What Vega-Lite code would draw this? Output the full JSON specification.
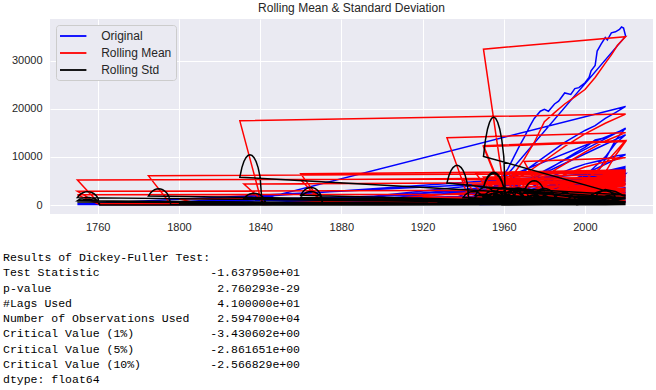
{
"$schema": "https://vega.github.io/schema/vega-lite/v6.json",
"padding": {"left": 3, "top": 2, "right": 0, "bottom": 0},
"background": "white",
"config": {"view": {"stroke": null}, "font": "Liberation Sans",
  "axis": {"domain": false, "ticks": false, "gridColor": "white", "gridWidth": 1, "labelFont": "Liberation Sans", "labelFontSize": 11, "labelColor": "#262626"}},
"datasets": {
"original": [
{"year":1750,"value":250},{"year":1800,"value":300},{"year":1850,"value":400},{"year":1900,"value":700},{"year":1950,"value":1300},{"year":1970,"value":2200},{"year":1990,"value":3500},{"year":2000,"value":4200},{"year":2010,"value":5000},{"year":2020,"value":5800},
{"year":1750,"value":150},{"year":1800,"value":180},{"year":1850,"value":250},{"year":1900,"value":400},{"year":1950,"value":700},{"year":1970,"value":1200},{"year":1990,"value":2000},{"year":2000,"value":2400},{"year":2010,"value":2900},{"year":2020,"value":3300},
{"year":1750,"value":100},{"year":1800,"value":150},{"year":1850,"value":200},{"year":1900,"value":350},{"year":1950,"value":800},{"year":1970,"value":1500},{"year":1990,"value":3000},{"year":2000,"value":4200},{"year":2010,"value":5600},{"year":2020,"value":7000},
{"year":1785,"value":150},{"year":1800,"value":200},{"year":1850,"value":450},{"year":1900,"value":1300},{"year":1950,"value":3000},{"year":1960,"value":4500},{"year":1970,"value":7000},{"year":1980,"value":10000},{"year":1990,"value":13000},{"year":2000,"value":15500},{"year":2005,"value":16500},{"year":2010,"value":18000},{"year":2015,"value":19200},{"year":2020,"value":20500},
{"year":1830,"value":100},{"year":1850,"value":200},{"year":1900,"value":500},{"year":1950,"value":1000},{"year":1970,"value":1800},{"year":1990,"value":3000},{"year":2000,"value":3800},{"year":2010,"value":4500},{"year":2020,"value":5000},
{"year":1832,"value":120},{"year":1850,"value":250},{"year":1900,"value":600},{"year":1950,"value":1400},{"year":1970,"value":2800},{"year":1990,"value":4500},{"year":2000,"value":5500},{"year":2010,"value":6800},{"year":2020,"value":7400},
{"year":1860,"value":200},{"year":1900,"value":350},{"year":1950,"value":600},{"year":1970,"value":900},{"year":1990,"value":1300},{"year":2000,"value":1500},{"year":2010,"value":1700},{"year":2020,"value":1800},
{"year":1920,"value":300},{"year":1930,"value":500},{"year":1940,"value":700},{"year":1950,"value":1200},{"year":1960,"value":2500},{"year":1970,"value":4500},{"year":1975,"value":5500},{"year":1980,"value":7000},{"year":1985,"value":8200},{"year":1990,"value":9500},{"year":1995,"value":10800},{"year":2000,"value":12000},{"year":2005,"value":13500},{"year":2010,"value":14000},{"year":2015,"value":15000},{"year":2020,"value":15800},
{"year":1932,"value":800},{"year":1940,"value":1200},{"year":1950,"value":2500},{"year":1955,"value":3800},{"year":1958,"value":5000},{"year":1962,"value":7500},{"year":1965,"value":10000},{"year":1968,"value":12500},{"year":1970,"value":14000},{"year":1973,"value":16500},{"year":1975,"value":18000},{"year":1978,"value":19500},{"year":1980,"value":19900},{"year":1982,"value":19500},{"year":1985,"value":21000},{"year":1987,"value":21600},{"year":1990,"value":23300},{"year":1993,"value":23000},{"year":1995,"value":24200},{"year":1997,"value":24400},{"year":2000,"value":25400},{"year":2002,"value":26500},{"year":2003,"value":27900},{"year":2005,"value":29000},{"year":2006,"value":32000},{"year":2008,"value":33500},{"year":2010,"value":34800},{"year":2011,"value":34300},{"year":2013,"value":35800},{"year":2015,"value":36000},{"year":2017,"value":36500},{"year":2018,"value":37000},{"year":2019,"value":36800},{"year":2020,"value":35100},
{"year":1950,"value":500},{"year":1960,"value":800},{"year":1970,"value":1500},{"year":1980,"value":2500},{"year":1990,"value":4000},{"year":2000,"value":6000},{"year":2005,"value":8000},{"year":2010,"value":10000},{"year":2015,"value":12800},{"year":2020,"value":14600},
{"year":1950,"value":700},{"year":1960,"value":1500},{"year":1970,"value":3000},{"year":1980,"value":5000},{"year":1985,"value":6200},{"year":1990,"value":7000},{"year":1995,"value":7800},{"year":2000,"value":8500},{"year":2005,"value":9000},{"year":2010,"value":9500},{"year":2015,"value":10200},{"year":2020,"value":10500},
{"year":1970,"value":400},{"year":1980,"value":800},{"year":1990,"value":1500},{"year":2000,"value":2600},{"year":2010,"value":3800},{"year":2015,"value":4500},{"year":2020,"value":5000},
{"year":1945,"value":300},{"year":1960,"value":600},{"year":1970,"value":1000},{"year":1980,"value":1800},{"year":1990,"value":3000},{"year":2000,"value":4500},{"year":2010,"value":5800},{"year":2020,"value":6500},
{"year":2005,"value":400},{"year":2010,"value":500},{"year":2015,"value":600},{"year":2020,"value":650},
{"year":1950,"value":200},{"year":1970,"value":500},{"year":1990,"value":1600},{"year":2000,"value":3500},{"year":2005,"value":6000},{"year":2010,"value":9500},{"year":2015,"value":13500},{"year":2020,"value":16000},
{"year":1950,"value":500},{"year":1960,"value":700},{"year":1970,"value":1000},{"year":1980,"value":1500},{"year":1990,"value":2000},{"year":2000,"value":2800},{"year":2010,"value":3800},{"year":2020,"value":4300},
{"year":1955,"value":300},{"year":1970,"value":700},{"year":1980,"value":1200},{"year":1990,"value":2000},{"year":2000,"value":3500},{"year":2010,"value":6000},{"year":2020,"value":7500},
{"year":1960,"value":1000},{"year":1970,"value":1800},{"year":1980,"value":3000},{"year":1990,"value":4300},{"year":2000,"value":5500},{"year":2010,"value":7000},{"year":2020,"value":8000},
{"year":1946,"value":400},{"year":1960,"value":600},{"year":1970,"value":900},{"year":1980,"value":1500},{"year":1990,"value":2000},{"year":2000,"value":2600},{"year":2010,"value":3200},{"year":2020,"value":3600},
{"year":1966,"value":150},{"year":1980,"value":400},{"year":1990,"value":500},{"year":2000,"value":700},{"year":2010,"value":1100},{"year":2020,"value":1500},
{"year":1800,"value":100},{"year":1850,"value":150},{"year":1900,"value":250},{"year":1950,"value":450},{"year":1970,"value":800},{"year":1990,"value":1800},{"year":2000,"value":2800},{"year":2010,"value":4200},{"year":2020,"value":5500},
{"year":1952,"value":250},{"year":1960,"value":400},{"year":1970,"value":700},{"year":1980,"value":1300},{"year":1990,"value":2200},{"year":2000,"value":3300},{"year":2010,"value":4800},{"year":2020,"value":6200},
{"year":1860,"value":300},{"year":1900,"value":500},{"year":1950,"value":900},{"year":1970,"value":1400},{"year":1990,"value":2000},{"year":2000,"value":2400},{"year":2010,"value":3000},{"year":2020,"value":3500},
{"year":1955,"value":150},{"year":1970,"value":400},{"year":1980,"value":600},{"year":1990,"value":900},{"year":2000,"value":1300},{"year":2010,"value":2000},{"year":2020,"value":2500},
{"year":1750,"value":80},{"year":1800,"value":100},{"year":1850,"value":150},{"year":1900,"value":250},{"year":1950,"value":500},{"year":1970,"value":900},{"year":1990,"value":1500},{"year":2000,"value":2000},{"year":2010,"value":2600},{"year":2020,"value":3000},
{"year":1948,"value":100},{"year":1960,"value":150},{"year":1970,"value":250},{"year":1980,"value":350},{"year":1990,"value":450},{"year":2000,"value":600},{"year":2010,"value":800},{"year":2020,"value":1000},
{"year":1990,"value":600},{"year":1995,"value":400},{"year":2000,"value":500},{"year":2005,"value":900},{"year":2010,"value":1500},{"year":2015,"value":2000},{"year":2020,"value":2300},
{"year":1950,"value":300},{"year":1960,"value":500},{"year":1970,"value":900},{"year":1980,"value":1500},{"year":1990,"value":2500},{"year":2000,"value":3800},{"year":2005,"value":5000},{"year":2010,"value":6500},{"year":2015,"value":7500},{"year":2020,"value":7800},
{"year":1962,"value":600},{"year":1970,"value":1600},{"year":1980,"value":2400},{"year":1990,"value":3300},{"year":2000,"value":4000},{"year":2010,"value":4800},{"year":2020,"value":5200},
{"year":1985,"value":200},{"year":1990,"value":300},{"year":2000,"value":1000},{"year":2010,"value":1500},{"year":2020,"value":2000},
{"year":1950,"value":1200},{"year":1960,"value":1800},{"year":1970,"value":2800},{"year":1980,"value":3600},{"year":1990,"value":4500},{"year":2000,"value":5500},{"year":2010,"value":6500},{"year":2020,"value":7200},
{"year":1965,"value":400},{"year":1970,"value":700},{"year":1980,"value":1500},{"year":1990,"value":2600},{"year":2000,"value":4000},{"year":2010,"value":5500},{"year":2020,"value":6000},
{"year":1940,"value":300},{"year":1950,"value":450},{"year":1960,"value":700},{"year":1970,"value":1000},{"year":1980,"value":1300},{"year":1990,"value":1500},{"year":2000,"value":1800},{"year":2010,"value":2200},{"year":2020,"value":2600},
{"year":1980,"value":500},{"year":1990,"value":700},{"year":2000,"value":1100},{"year":2010,"value":1800},{"year":2020,"value":2400},
{"year":1990,"value":800},{"year":1995,"value":1500},{"year":2000,"value":2800},{"year":2005,"value":4000},{"year":2010,"value":6000},{"year":2015,"value":6800},{"year":2020,"value":7300},
{"year":1975,"value":350},{"year":1980,"value":450},{"year":1990,"value":1100},{"year":2000,"value":1300},{"year":2010,"value":1600},{"year":2020,"value":1900},
{"year":1950,"value":400},{"year":1960,"value":900},{"year":1970,"value":1700},{"year":1980,"value":2600},{"year":1990,"value":3400},{"year":2000,"value":4300},{"year":2010,"value":5200},{"year":2020,"value":6000},
{"year":1960,"value":800},{"year":1970,"value":1400},{"year":1980,"value":2500},{"year":1990,"value":3500},{"year":2000,"value":4500},{"year":2010,"value":5000},{"year":2020,"value":5400},
{"year":1950,"value":1000},{"year":1960,"value":1600},{"year":1970,"value":2400},{"year":1980,"value":3000},{"year":1990,"value":3700},{"year":2000,"value":4200},{"year":2010,"value":4900},{"year":2020,"value":5300},
{"year":1991,"value":1500},{"year":1995,"value":1200},{"year":2000,"value":1800},{"year":2005,"value":2800},{"year":2010,"value":4000},{"year":2015,"value":4800},{"year":2020,"value":5200},
{"year":1950,"value":200},{"year":1960,"value":300},{"year":1970,"value":500},{"year":1980,"value":800},{"year":1990,"value":1100},{"year":2000,"value":1400},{"year":2010,"value":1900},{"year":2020,"value":2300},
{"year":1960,"value":500},{"year":1970,"value":1200},{"year":1980,"value":2200},{"year":1990,"value":3000},{"year":2000,"value":4200},{"year":2010,"value":5800},{"year":2020,"value":6800},
{"year":1950,"value":600},{"year":1960,"value":900},{"year":1970,"value":1300},{"year":1980,"value":1900},{"year":1990,"value":2500},{"year":2000,"value":3200},{"year":2010,"value":3900},{"year":2020,"value":4400},
{"year":1970,"value":300},{"year":1980,"value":600},{"year":1990,"value":1000},{"year":2000,"value":1600},{"year":2010,"value":2500},{"year":2020,"value":3300},
{"year":1950,"value":900},{"year":1960,"value":1500},{"year":1970,"value":2500},{"year":1980,"value":3500},{"year":1990,"value":4500},{"year":2000,"value":5600},{"year":2010,"value":6700},{"year":2020,"value":7500},
{"year":1955,"value":400},{"year":1970,"value":900},{"year":1980,"value":1500},{"year":1990,"value":2300},{"year":2000,"value":3300},{"year":2010,"value":4500},{"year":2020,"value":5600}
],
"rolling_mean": [
{"year":1761,"value":255},{"year":1800,"value":295},{"year":1850,"value":390},{"year":1900,"value":680},{"year":1950,"value":1250},{"year":1970,"value":2100},{"year":1990,"value":3300},{"year":2000,"value":3950},{"year":2010,"value":4750},{"year":2020,"value":5450},
{"year":1750,"value":5200},{"year":1761,"value":155},{"year":1800,"value":175},{"year":1850,"value":240},{"year":1900,"value":380},{"year":1950,"value":670},{"year":1970,"value":1120},{"year":1990,"value":1850},{"year":2000,"value":2250},{"year":2010,"value":2700},{"year":2020,"value":3100},
{"year":1750,"value":2850},{"year":1761,"value":105},{"year":1800,"value":145},{"year":1850,"value":195},{"year":1900,"value":330},{"year":1950,"value":740},{"year":1970,"value":1380},{"year":1990,"value":2700},{"year":2000,"value":3800},{"year":2010,"value":5100},{"year":2020,"value":6600},
{"year":1785,"value":6060},{"year":1796,"value":160},{"year":1850,"value":420},{"year":1900,"value":1200},{"year":1950,"value":2800},{"year":1960,"value":4100},{"year":1970,"value":6300},{"year":1980,"value":9200},{"year":1990,"value":12200},{"year":2000,"value":14800},{"year":2010,"value":17000},{"year":2020,"value":18900},
{"year":1830,"value":17500},{"year":1841,"value":110},{"year":1850,"value":190},{"year":1900,"value":470},{"year":1950,"value":950},{"year":1970,"value":1650},{"year":1990,"value":2800},{"year":2000,"value":3500},{"year":2010,"value":4200},{"year":2020,"value":4750},
{"year":1832,"value":4365},{"year":1843,"value":130},{"year":1850,"value":220},{"year":1900,"value":570},{"year":1950,"value":1320},{"year":1970,"value":2600},{"year":1990,"value":4200},{"year":2000,"value":5100},{"year":2010,"value":6300},{"year":2020,"value":7050},
{"year":1860,"value":6480},{"year":1871,"value":210},{"year":1900,"value":340},{"year":1950,"value":570},{"year":1970,"value":860},{"year":1990,"value":1250},{"year":2000,"value":1450},{"year":2010,"value":1650},{"year":2020,"value":1750},
{"year":1920,"value":1630},{"year":1931,"value":310},{"year":1940,"value":600},{"year":1950,"value":1000},{"year":1960,"value":2000},{"year":1970,"value":3700},{"year":1980,"value":6000},{"year":1990,"value":8500},{"year":2000,"value":11000},{"year":2010,"value":13300},{"year":2020,"value":15040},
{"year":1932,"value":14000},{"year":1943,"value":1000},{"year":1950,"value":1800},{"year":1955,"value":2800},{"year":1960,"value":4200},{"year":1965,"value":6500},{"year":1970,"value":9500},{"year":1975,"value":13000},{"year":1980,"value":17300},{"year":1985,"value":19200},{"year":1990,"value":21000},{"year":1995,"value":22500},{"year":2000,"value":24000},{"year":2005,"value":26500},{"year":2010,"value":29500},{"year":2013,"value":31200},{"year":2016,"value":33200},{"year":2020,"value":35000},
{"year":1950,"value":32400},{"year":1961,"value":560},{"year":1970,"value":1250},{"year":1980,"value":2150},{"year":1990,"value":3500},{"year":2000,"value":5300},{"year":2005,"value":6800},{"year":2010,"value":8700},{"year":2015,"value":11000},{"year":2020,"value":13400},
{"year":1950,"value":12340},{"year":1961,"value":1100},{"year":1970,"value":2300},{"year":1980,"value":4000},{"year":1990,"value":6300},{"year":2000,"value":7900},{"year":2010,"value":9000},{"year":2020,"value":9850},
{"year":1970,"value":9060},{"year":1981,"value":650},{"year":1990,"value":1250},{"year":2000,"value":2200},{"year":2010,"value":3300},{"year":2020,"value":4550},
{"year":1945,"value":4200},{"year":1956,"value":400},{"year":1970,"value":850},{"year":1980,"value":1550},{"year":1990,"value":2600},{"year":2000,"value":4000},{"year":2010,"value":5300},{"year":2020,"value":6100},
{"year":2005,"value":5625},{"year":2016,"value":540},{"year":2020,"value":600},
{"year":1950,"value":567},{"year":1961,"value":260},{"year":1970,"value":430},{"year":1990,"value":1350},{"year":2000,"value":2700},{"year":2005,"value":4200},{"year":2010,"value":6800},{"year":2015,"value":10300},{"year":2020,"value":13200},
{"year":1950,"value":12140},{"year":1961,"value":600},{"year":1970,"value":900},{"year":1980,"value":1350},{"year":1990,"value":1850},{"year":2000,"value":2500},{"year":2010,"value":3400},{"year":2020,"value":4000},
{"year":1955,"value":3690},{"year":1966,"value":400},{"year":1980,"value":1050},{"year":1990,"value":1750},{"year":2000,"value":3000},{"year":2010,"value":5200},{"year":2020,"value":7000},
{"year":1960,"value":6500},{"year":1971,"value":1150},{"year":1980,"value":2500},{"year":1990,"value":3800},{"year":2000,"value":5000},{"year":2010,"value":6300},{"year":2020,"value":7300},
{"year":1946,"value":6720},{"year":1957,"value":520},{"year":1970,"value":800},{"year":1980,"value":1300},{"year":1990,"value":1850},{"year":2000,"value":2400},{"year":2010,"value":3000},{"year":2020,"value":3450},
{"year":1966,"value":3175},{"year":1977,"value":300},{"year":1990,"value":470},{"year":2000,"value":640},{"year":2010,"value":1000},{"year":2020,"value":1400},
{"year":1800,"value":1290},{"year":1811,"value":105},{"year":1850,"value":145},{"year":1900,"value":240},{"year":1950,"value":420},{"year":1970,"value":720},{"year":1990,"value":1600},{"year":2000,"value":2500},{"year":2010,"value":3700},{"year":2020,"value":5000},
{"year":1952,"value":4600},{"year":1963,"value":400},{"year":1970,"value":600},{"year":1980,"value":1100},{"year":1990,"value":1900},{"year":2000,"value":2900},{"year":2010,"value":4200},{"year":2020,"value":5700},
{"year":1860,"value":5250},{"year":1871,"value":310},{"year":1900,"value":480},{"year":1950,"value":850},{"year":1970,"value":1300},{"year":1990,"value":1900},{"year":2000,"value":2250},{"year":2010,"value":2800},{"year":2020,"value":3300},
{"year":1955,"value":3040},{"year":1966,"value":250},{"year":1980,"value":540},{"year":1990,"value":820},{"year":2000,"value":1200},{"year":2010,"value":1800},{"year":2020,"value":2300},
{"year":1750,"value":2115},{"year":1761,"value":85},{"year":1800,"value":100},{"year":1850,"value":145},{"year":1900,"value":240},{"year":1950,"value":470},{"year":1970,"value":830},{"year":1990,"value":1400},{"year":2000,"value":1850},{"year":2010,"value":2400},{"year":2020,"value":2850},
{"year":1948,"value":2620},{"year":1959,"value":140},{"year":1970,"value":220},{"year":1980,"value":320},{"year":1990,"value":420},{"year":2000,"value":550},{"year":2010,"value":750},{"year":2020,"value":950},
{"year":1990,"value":920},{"year":2001,"value":520},{"year":2005,"value":620},{"year":2010,"value":950},{"year":2015,"value":1500},{"year":2020,"value":1950},
{"year":1950,"value":1810},{"year":1961,"value":420},{"year":1970,"value":780},{"year":1980,"value":1300},{"year":1990,"value":2200},{"year":2000,"value":3400},{"year":2010,"value":5500},{"year":2020,"value":7200},
{"year":1962,"value":6650},{"year":1973,"value":1300},{"year":1980,"value":2100},{"year":1990,"value":3000},{"year":2000,"value":3800},{"year":2010,"value":4500},{"year":2020,"value":5000},
{"year":1985,"value":4600},{"year":1996,"value":600},{"year":2000,"value":800},{"year":2010,"value":1350},{"year":2020,"value":1850},
{"year":1950,"value":1800},{"year":1961,"value":1500},{"year":1970,"value":2400},{"year":1980,"value":3200},{"year":1990,"value":4100},{"year":2000,"value":5000},{"year":2010,"value":6000},{"year":2020,"value":6800},
{"year":1965,"value":6270},{"year":1976,"value":1100},{"year":1980,"value":1400},{"year":1990,"value":2300},{"year":2000,"value":3500},{"year":2010,"value":5000},{"year":2020,"value":5700},
{"year":1940,"value":5250},{"year":1951,"value":380},{"year":1960,"value":620},{"year":1970,"value":900},{"year":1980,"value":1200},{"year":1990,"value":1450},{"year":2000,"value":1700},{"year":2010,"value":2050},{"year":2020,"value":2450},
{"year":1980,"value":2290},{"year":1991,"value":600},{"year":2000,"value":950},{"year":2010,"value":1600},{"year":2020,"value":2200},
{"year":1990,"value":2085},{"year":2001,"value":1900},{"year":2005,"value":3600},{"year":2010,"value":5000},{"year":2015,"value":6200},{"year":2020,"value":6900},
{"year":1975,"value":6350},{"year":1986,"value":900},{"year":1990,"value":1000},{"year":2000,"value":1250},{"year":2010,"value":1500},{"year":2020,"value":1800},
{"year":1950,"value":1683},{"year":1961,"value":700},{"year":1970,"value":1450},{"year":1980,"value":2300},{"year":1990,"value":3100},{"year":2000,"value":3900},{"year":2010,"value":4800},{"year":2020,"value":5600},
{"year":1960,"value":5200},{"year":1971,"value":1200},{"year":1980,"value":2100},{"year":1990,"value":3100},{"year":2000,"value":4100},{"year":2010,"value":4800},{"year":2020,"value":5200},
{"year":1950,"value":4850},{"year":1961,"value":1400},{"year":1970,"value":2100},{"year":1980,"value":2800},{"year":1990,"value":3400},{"year":2000,"value":4000},{"year":2010,"value":4600},{"year":2020,"value":5100},
{"year":1991,"value":4800},{"year":2002,"value":1600},{"year":2005,"value":2000},{"year":2010,"value":3100},{"year":2015,"value":4100},{"year":2020,"value":4800},
{"year":1950,"value":4417},{"year":1961,"value":260},{"year":1970,"value":450},{"year":1980,"value":720},{"year":1990,"value":1000},{"year":2000,"value":1300},{"year":2010,"value":1750},{"year":2020,"value":2150},
{"year":1960,"value":2013},{"year":1971,"value":900},{"year":1980,"value":1800},{"year":1990,"value":2700},{"year":2000,"value":3700},{"year":2010,"value":5100},{"year":2020,"value":6300},
{"year":1950,"value":5825},{"year":1961,"value":800},{"year":1970,"value":1150},{"year":1980,"value":1700},{"year":1990,"value":2300},{"year":2000,"value":2950},{"year":2010,"value":3600},{"year":2020,"value":4200},
{"year":1970,"value":3875},{"year":1981,"value":500},{"year":1990,"value":850},{"year":2000,"value":1400},{"year":2010,"value":2200},{"year":2020,"value":3000},
{"year":1950,"value":2825},{"year":1961,"value":1300},{"year":1970,"value":2100},{"year":1980,"value":3100},{"year":1990,"value":4100},{"year":2000,"value":5100},{"year":2010,"value":6200},{"year":2020,"value":7100},
{"year":1955,"value":6542},{"year":1966,"value":600},{"year":1980,"value":1250},{"year":1990,"value":2000},{"year":2000,"value":2900},{"year":2010,"value":4000},{"year":2020,"value":5100}
],
"rolling_std": [
{"year":1761,"value":20},{"year":1850,"value":30},{"year":1900,"value":60},{"year":1950,"value":100},{"year":1970,"value":170},{"year":1990,"value":250},{"year":2010,"value":280},{"year":2020,"value":290},
{"year":1750,"value":1532},{"year":1751,"value":2062},{"year":1752,"value":2396},{"year":1753,"value":2608},{"year":1754,"value":2730},{"year":1755,"value":2767},{"year":1756,"value":2730},{"year":1757,"value":2608},{"year":1758,"value":2396},{"year":1759,"value":2062},{"year":1760,"value":1532},{"year":1761,"value":30},{"year":1800,"value":20},{"year":1850,"value":30},{"year":1900,"value":50},{"year":1950,"value":80},{"year":1970,"value":140},{"year":1990,"value":220},{"year":2010,"value":200},{"year":2020,"value":190},
{"year":1750,"value":867},{"year":1751,"value":1167},{"year":1752,"value":1356},{"year":1753,"value":1476},{"year":1754,"value":1545},{"year":1755,"value":1566},{"year":1756,"value":1545},{"year":1757,"value":1476},{"year":1758,"value":1356},{"year":1759,"value":1167},{"year":1760,"value":867},{"year":1761,"value":20},{"year":1800,"value":15},{"year":1850,"value":20},{"year":1900,"value":40},{"year":1950,"value":100},{"year":1970,"value":220},{"year":1990,"value":420},{"year":2000,"value":450},{"year":2010,"value":430},{"year":2020,"value":440},
{"year":1785,"value":1864},{"year":1786,"value":2509},{"year":1787,"value":2915},{"year":1788,"value":3173},{"year":1789,"value":3322},{"year":1790,"value":3367},{"year":1791,"value":3322},{"year":1792,"value":3173},{"year":1793,"value":2915},{"year":1794,"value":2509},{"year":1795,"value":1864},{"year":1796,"value":40},{"year":1850,"value":60},{"year":1900,"value":180},{"year":1950,"value":350},{"year":1960,"value":500},{"year":1970,"value":850},{"year":1980,"value":1000},{"year":1990,"value":1000},{"year":2000,"value":900},{"year":2010,"value":900},{"year":2020,"value":1300},
{"year":1830,"value":5780},{"year":1831,"value":7780},{"year":1832,"value":9040},{"year":1833,"value":9840},{"year":1834,"value":10300},{"year":1835,"value":10440},{"year":1836,"value":10300},{"year":1837,"value":9840},{"year":1838,"value":9040},{"year":1839,"value":7780},{"year":1840,"value":5780},{"year":1841,"value":50},{"year":1850,"value":30},{"year":1900,"value":50},{"year":1950,"value":90},{"year":1970,"value":180},{"year":1990,"value":330},{"year":2000,"value":300},{"year":2010,"value":250},{"year":2020,"value":200},
{"year":1832,"value":1344},{"year":1833,"value":1809},{"year":1834,"value":2102},{"year":1835,"value":2288},{"year":1836,"value":2395},{"year":1837,"value":2427},{"year":1838,"value":2395},{"year":1839,"value":2288},{"year":1840,"value":2102},{"year":1841,"value":1809},{"year":1842,"value":1344},{"year":1843,"value":30},{"year":1900,"value":50},{"year":1950,"value":120},{"year":1970,"value":250},{"year":1990,"value":350},{"year":2010,"value":330},{"year":2020,"value":350},
{"year":1860,"value":2023},{"year":1861,"value":2723},{"year":1862,"value":3164},{"year":1863,"value":3444},{"year":1864,"value":3605},{"year":1865,"value":3654},{"year":1866,"value":3605},{"year":1867,"value":3444},{"year":1868,"value":3164},{"year":1869,"value":2723},{"year":1870,"value":2023},{"year":1871,"value":20},{"year":1900,"value":25},{"year":1950,"value":40},{"year":1970,"value":60},{"year":1990,"value":80},{"year":2020,"value":70},
{"year":1920,"value":419},{"year":1921,"value":564},{"year":1923,"value":713},{"year":1925,"value":757},{"year":1927,"value":713},{"year":1929,"value":564},{"year":1930,"value":419},{"year":1931,"value":60},{"year":1940,"value":70},{"year":1950,"value":150},{"year":1960,"value":400},{"year":1970,"value":650},{"year":1980,"value":800},{"year":1990,"value":800},{"year":2000,"value":850},{"year":2010,"value":600},{"year":2020,"value":700},
{"year":1932,"value":4566},{"year":1933,"value":6146},{"year":1934,"value":7142},{"year":1935,"value":7774},{"year":1936,"value":8137},{"year":1937,"value":8248},{"year":1938,"value":8137},{"year":1939,"value":7774},{"year":1940,"value":7142},{"year":1941,"value":6146},{"year":1942,"value":4566},{"year":1943,"value":150},{"year":1950,"value":400},{"year":1955,"value":700},{"year":1960,"value":1500},{"year":1965,"value":2800},{"year":1970,"value":3300},{"year":1975,"value":2800},{"year":1980,"value":2000},{"year":1985,"value":1200},{"year":1990,"value":1300},{"year":1995,"value":1200},{"year":2000,"value":1300},{"year":2005,"value":2500},{"year":2010,"value":3200},{"year":2015,"value":2800},{"year":2020,"value":1800},
{"year":1950,"value":10115},{"year":1951,"value":13615},{"year":1952,"value":15820},{"year":1953,"value":17220},{"year":1954,"value":18025},{"year":1955,"value":18270},{"year":1956,"value":18025},{"year":1957,"value":17220},{"year":1958,"value":15820},{"year":1959,"value":13615},{"year":1960,"value":10115},{"year":1961,"value":100},{"year":1970,"value":200},{"year":1980,"value":300},{"year":1990,"value":500},{"year":2000,"value":700},{"year":2010,"value":1300},{"year":2020,"value":1500},
{"year":1950,"value":3613},{"year":1951,"value":4863},{"year":1952,"value":5650},{"year":1953,"value":6150},{"year":1954,"value":6438},{"year":1955,"value":6525},{"year":1956,"value":6438},{"year":1957,"value":6150},{"year":1958,"value":5650},{"year":1959,"value":4863},{"year":1960,"value":3613},{"year":1961,"value":300},{"year":1970,"value":500},{"year":1980,"value":650},{"year":1990,"value":500},{"year":2000,"value":450},{"year":2010,"value":350},{"year":2020,"value":400},
{"year":1970,"value":2803},{"year":1971,"value":3773},{"year":1972,"value":4384},{"year":1973,"value":4772},{"year":1974,"value":4996},{"year":1975,"value":5063},{"year":1976,"value":4996},{"year":1977,"value":4772},{"year":1978,"value":4384},{"year":1979,"value":3773},{"year":1980,"value":2803},{"year":1981,"value":120},{"year":1990,"value":200},{"year":2000,"value":330},{"year":2010,"value":400},{"year":2020,"value":350},
{"year":1945,"value":1243},{"year":1946,"value":1673},{"year":1947,"value":1944},{"year":1948,"value":2116},{"year":1949,"value":2215},{"year":1950,"value":2245},{"year":1951,"value":2215},{"year":1952,"value":2116},{"year":1953,"value":1944},{"year":1954,"value":1673},{"year":1955,"value":1243},{"year":1956,"value":60},{"year":1970,"value":130},{"year":1980,"value":250},{"year":1990,"value":380},{"year":2000,"value":450},{"year":2010,"value":400},{"year":2020,"value":300},
{"year":2005,"value":1647},{"year":2006,"value":2217},{"year":2007,"value":2576},{"year":2008,"value":2804},{"year":2009,"value":2936},{"year":2010,"value":2975},{"year":2011,"value":2936},{"year":2012,"value":2804},{"year":2013,"value":2576},{"year":2014,"value":2217},{"year":2015,"value":1647},{"year":2016,"value":50},{"year":2020,"value":60},
{"year":1950,"value":116},{"year":1951,"value":156},{"year":1953,"value":197},{"year":1955,"value":209},{"year":1957,"value":197},{"year":1959,"value":156},{"year":1960,"value":116},{"year":1961,"value":30},{"year":1970,"value":60},{"year":1990,"value":250},{"year":2000,"value":700},{"year":2005,"value":1300},{"year":2010,"value":1900},{"year":2015,"value":2200},{"year":2020,"value":2100},
{"year":1950,"value":3757},{"year":1951,"value":5057},{"year":1952,"value":5876},{"year":1953,"value":6396},{"year":1954,"value":6695},{"year":1955,"value":6786},{"year":1956,"value":6695},{"year":1957,"value":6396},{"year":1958,"value":5876},{"year":1959,"value":5057},{"year":1960,"value":3757},{"year":1961,"value":60},{"year":1970,"value":90},{"year":1980,"value":150},{"year":1990,"value":180},{"year":2000,"value":250},{"year":2010,"value":300},{"year":2020,"value":200},
{"year":1955,"value":1069},{"year":1956,"value":1439},{"year":1957,"value":1672},{"year":1958,"value":1820},{"year":1959,"value":1906},{"year":1960,"value":1931},{"year":1961,"value":1906},{"year":1962,"value":1820},{"year":1963,"value":1672},{"year":1964,"value":1439},{"year":1965,"value":1069},{"year":1966,"value":80},{"year":1980,"value":150},{"year":1990,"value":250},{"year":2000,"value":450},{"year":2010,"value":700},{"year":2020,"value":500},
{"year":1960,"value":1734},{"year":1961,"value":2334},{"year":1962,"value":2712},{"year":1963,"value":2952},{"year":1964,"value":3090},{"year":1965,"value":3132},{"year":1966,"value":3090},{"year":1967,"value":2952},{"year":1968,"value":2712},{"year":1969,"value":2334},{"year":1970,"value":1734},{"year":1971,"value":250},{"year":1980,"value":400},{"year":1990,"value":400},{"year":2000,"value":380},{"year":2010,"value":450},{"year":2020,"value":350},
{"year":1946,"value":2023},{"year":1947,"value":2723},{"year":1948,"value":3164},{"year":1949,"value":3444},{"year":1950,"value":3605},{"year":1951,"value":3654},{"year":1952,"value":3605},{"year":1953,"value":3444},{"year":1954,"value":3164},{"year":1955,"value":2723},{"year":1956,"value":2023},{"year":1957,"value":60},{"year":1970,"value":90},{"year":1980,"value":160},{"year":1990,"value":150},{"year":2000,"value":180},{"year":2010,"value":200},{"year":2020,"value":130},
{"year":1966,"value":954},{"year":1967,"value":1284},{"year":1968,"value":1492},{"year":1969,"value":1624},{"year":1970,"value":1700},{"year":1971,"value":1723},{"year":1972,"value":1700},{"year":1973,"value":1624},{"year":1974,"value":1492},{"year":1975,"value":1284},{"year":1976,"value":954},{"year":1977,"value":30},{"year":1990,"value":40},{"year":2000,"value":70},{"year":2010,"value":120},{"year":2020,"value":140},
{"year":1800,"value":376},{"year":1801,"value":506},{"year":1803,"value":640},{"year":1805,"value":679},{"year":1807,"value":640},{"year":1809,"value":506},{"year":1810,"value":376},{"year":1811,"value":10},{"year":1850,"value":10},{"year":1900,"value":20},{"year":1950,"value":30},{"year":1970,"value":70},{"year":1990,"value":250},{"year":2000,"value":350},{"year":2010,"value":450},{"year":2020,"value":400},
{"year":1952,"value":1445},{"year":1953,"value":1945},{"year":1954,"value":2260},{"year":1955,"value":2460},{"year":1956,"value":2575},{"year":1957,"value":2610},{"year":1958,"value":2575},{"year":1959,"value":2460},{"year":1960,"value":2260},{"year":1961,"value":1945},{"year":1962,"value":1445},{"year":1963,"value":50},{"year":1970,"value":90},{"year":1980,"value":180},{"year":1990,"value":270},{"year":2000,"value":350},{"year":2010,"value":450},{"year":2020,"value":420},
{"year":1860,"value":1561},{"year":1861,"value":2101},{"year":1862,"value":2441},{"year":1863,"value":2657},{"year":1864,"value":2781},{"year":1865,"value":2819},{"year":1866,"value":2781},{"year":1867,"value":2657},{"year":1868,"value":2441},{"year":1869,"value":2101},{"year":1870,"value":1561},{"year":1871,"value":20},{"year":1900,"value":30},{"year":1950,"value":60},{"year":1970,"value":90},{"year":1990,"value":130},{"year":2010,"value":180},{"year":2020,"value":170},
{"year":1955,"value":910},{"year":1956,"value":1225},{"year":1957,"value":1424},{"year":1958,"value":1550},{"year":1959,"value":1622},{"year":1960,"value":1644},{"year":1961,"value":1622},{"year":1962,"value":1550},{"year":1963,"value":1424},{"year":1964,"value":1225},{"year":1965,"value":910},{"year":1966,"value":30},{"year":1980,"value":60},{"year":1990,"value":90},{"year":2000,"value":130},{"year":2010,"value":200},{"year":2020,"value":180},
{"year":1750,"value":642},{"year":1751,"value":864},{"year":1753,"value":1092},{"year":1755,"value":1159},{"year":1757,"value":1092},{"year":1759,"value":864},{"year":1760,"value":642},{"year":1761,"value":5},{"year":1850,"value":10},{"year":1900,"value":20},{"year":1950,"value":40},{"year":1970,"value":80},{"year":1990,"value":150},{"year":2000,"value":180},{"year":2010,"value":200},{"year":2020,"value":150},
{"year":1948,"value":795},{"year":1949,"value":1070},{"year":1951,"value":1353},{"year":1953,"value":1436},{"year":1955,"value":1353},{"year":1957,"value":1070},{"year":1958,"value":795},{"year":1959,"value":20},{"year":1980,"value":30},{"year":2000,"value":50},{"year":2020,"value":60},
{"year":1990,"value":101},{"year":1991,"value":136},{"year":1993,"value":172},{"year":1995,"value":183},{"year":1997,"value":172},{"year":1999,"value":136},{"year":2000,"value":101},{"year":2001,"value":80},{"year":2005,"value":150},{"year":2010,"value":300},{"year":2015,"value":350},{"year":2020,"value":300},
{"year":1950,"value":477},{"year":1951,"value":642},{"year":1953,"value":812},{"year":1955,"value":861},{"year":1957,"value":812},{"year":1959,"value":642},{"year":1960,"value":477},{"year":1961,"value":60},{"year":1970,"value":110},{"year":1980,"value":180},{"year":1990,"value":300},{"year":2000,"value":450},{"year":2010,"value":700},{"year":2020,"value":500},
{"year":1962,"value":1965},{"year":1963,"value":2645},{"year":1964,"value":3074},{"year":1965,"value":3346},{"year":1966,"value":3502},{"year":1967,"value":3550},{"year":1968,"value":3502},{"year":1969,"value":3346},{"year":1970,"value":3074},{"year":1971,"value":2645},{"year":1972,"value":1965},{"year":1973,"value":120},{"year":1980,"value":250},{"year":1990,"value":280},{"year":2000,"value":250},{"year":2010,"value":280},{"year":2020,"value":200},
{"year":1985,"value":1387},{"year":1986,"value":1867},{"year":1987,"value":2170},{"year":1988,"value":2362},{"year":1989,"value":2472},{"year":1990,"value":2506},{"year":1991,"value":2472},{"year":1992,"value":2362},{"year":1993,"value":2170},{"year":1994,"value":1867},{"year":1995,"value":1387},{"year":1996,"value":30},{"year":2000,"value":150},{"year":2010,"value":160},{"year":2020,"value":170},
{"year":1950,"value":188},{"year":1951,"value":253},{"year":1953,"value":320},{"year":1955,"value":339},{"year":1957,"value":320},{"year":1959,"value":253},{"year":1960,"value":188},{"year":1961,"value":200},{"year":1970,"value":300},{"year":1980,"value":300},{"year":1990,"value":300},{"year":2000,"value":320},{"year":2010,"value":330},{"year":2020,"value":250},
{"year":1965,"value":1879},{"year":1966,"value":2529},{"year":1967,"value":2938},{"year":1968,"value":3198},{"year":1969,"value":3348},{"year":1970,"value":3393},{"year":1971,"value":3348},{"year":1972,"value":3198},{"year":1973,"value":2938},{"year":1974,"value":2529},{"year":1975,"value":1879},{"year":1976,"value":90},{"year":1980,"value":250},{"year":1990,"value":330},{"year":2000,"value":380},{"year":2010,"value":400},{"year":2020,"value":250},
{"year":1940,"value":1561},{"year":1941,"value":2101},{"year":1942,"value":2441},{"year":1943,"value":2657},{"year":1944,"value":2781},{"year":1945,"value":2819},{"year":1946,"value":2781},{"year":1947,"value":2657},{"year":1948,"value":2441},{"year":1949,"value":2101},{"year":1950,"value":1561},{"year":1951,"value":50},{"year":1970,"value":90},{"year":1990,"value":80},{"year":2010,"value":120},{"year":2020,"value":130},
{"year":1980,"value":578},{"year":1981,"value":778},{"year":1983,"value":984},{"year":1985,"value":1044},{"year":1987,"value":984},{"year":1989,"value":778},{"year":1990,"value":578},{"year":1991,"value":60},{"year":2000,"value":130},{"year":2010,"value":200},{"year":2020,"value":200},
{"year":1990,"value":419},{"year":1991,"value":564},{"year":1993,"value":713},{"year":1995,"value":757},{"year":1997,"value":713},{"year":1999,"value":564},{"year":2000,"value":419},{"year":2001,"value":400},{"year":2005,"value":500},{"year":2010,"value":700},{"year":2015,"value":500},{"year":2020,"value":300},
{"year":1975,"value":1907},{"year":1976,"value":2567},{"year":1977,"value":2983},{"year":1978,"value":3247},{"year":1979,"value":3399},{"year":1980,"value":3445},{"year":1981,"value":3399},{"year":1982,"value":3247},{"year":1983,"value":2983},{"year":1984,"value":2567},{"year":1985,"value":1907},{"year":1986,"value":40},{"year":2000,"value":60},{"year":2020,"value":80},
{"year":1950,"value":405},{"year":1951,"value":545},{"year":1953,"value":689},{"year":1955,"value":731},{"year":1957,"value":689},{"year":1959,"value":545},{"year":1960,"value":405},{"year":1961,"value":250},{"year":1970,"value":500},{"year":1980,"value":600},{"year":1990,"value":550},{"year":2000,"value":600},{"year":2010,"value":650},{"year":2020,"value":550},
{"year":1960,"value":1445},{"year":1961,"value":1945},{"year":1962,"value":2260},{"year":1963,"value":2460},{"year":1964,"value":2575},{"year":1965,"value":2610},{"year":1966,"value":2575},{"year":1967,"value":2460},{"year":1968,"value":2260},{"year":1969,"value":1945},{"year":1970,"value":1445},{"year":1971,"value":400},{"year":1980,"value":700},{"year":1990,"value":650},{"year":2000,"value":600},{"year":2010,"value":400},{"year":2020,"value":300},
{"year":1950,"value":1272},{"year":1951,"value":1712},{"year":1952,"value":1989},{"year":1953,"value":2165},{"year":1954,"value":2266},{"year":1955,"value":2297},{"year":1956,"value":2266},{"year":1957,"value":2165},{"year":1958,"value":1989},{"year":1959,"value":1712},{"year":1960,"value":1272},{"year":1961,"value":450},{"year":1970,"value":600},{"year":1980,"value":500},{"year":1990,"value":550},{"year":2000,"value":450},{"year":2010,"value":500},{"year":2020,"value":300},
{"year":1991,"value":1040},{"year":1992,"value":1400},{"year":1993,"value":1627},{"year":1994,"value":1771},{"year":1995,"value":1854},{"year":1996,"value":1879},{"year":1997,"value":1854},{"year":1998,"value":1771},{"year":1999,"value":1627},{"year":2000,"value":1400},{"year":2001,"value":1040},{"year":2002,"value":500},{"year":2005,"value":600},{"year":2010,"value":900},{"year":2015,"value":800},{"year":2020,"value":500},
{"year":1950,"value":1329},{"year":1951,"value":1789},{"year":1952,"value":2079},{"year":1953,"value":2263},{"year":1954,"value":2369},{"year":1955,"value":2401},{"year":1956,"value":2369},{"year":1957,"value":2263},{"year":1958,"value":2079},{"year":1959,"value":1789},{"year":1960,"value":1329},{"year":1961,"value":40},{"year":1980,"value":90},{"year":2000,"value":120},{"year":2020,"value":150},
{"year":1960,"value":477},{"year":1961,"value":642},{"year":1963,"value":812},{"year":1965,"value":861},{"year":1967,"value":812},{"year":1969,"value":642},{"year":1970,"value":477},{"year":1971,"value":300},{"year":1980,"value":450},{"year":1990,"value":400},{"year":2000,"value":500},{"year":2010,"value":650},{"year":2020,"value":450},
{"year":1950,"value":1647},{"year":1951,"value":2217},{"year":1952,"value":2576},{"year":1953,"value":2804},{"year":1954,"value":2936},{"year":1955,"value":2975},{"year":1956,"value":2936},{"year":1957,"value":2804},{"year":1958,"value":2576},{"year":1959,"value":2217},{"year":1960,"value":1647},{"year":1961,"value":150},{"year":1970,"value":180},{"year":1980,"value":250},{"year":1990,"value":280},{"year":2000,"value":300},{"year":2010,"value":320},{"year":2020,"value":250},
{"year":1970,"value":1127},{"year":1971,"value":1517},{"year":1972,"value":1763},{"year":1973,"value":1919},{"year":1974,"value":2009},{"year":1975,"value":2036},{"year":1976,"value":2009},{"year":1977,"value":1919},{"year":1978,"value":1763},{"year":1979,"value":1517},{"year":1980,"value":1127},{"year":1981,"value":100},{"year":1990,"value":150},{"year":2000,"value":250},{"year":2010,"value":350},{"year":2020,"value":320},
{"year":1950,"value":607},{"year":1951,"value":817},{"year":1953,"value":1033},{"year":1955,"value":1096},{"year":1957,"value":1033},{"year":1959,"value":817},{"year":1960,"value":607},{"year":1961,"value":350},{"year":1970,"value":450},{"year":1980,"value":450},{"year":1990,"value":450},{"year":2000,"value":500},{"year":2010,"value":500},{"year":2020,"value":450},
{"year":1955,"value":1994},{"year":1956,"value":2684},{"year":1957,"value":3119},{"year":1958,"value":3395},{"year":1959,"value":3554},{"year":1960,"value":3602},{"year":1961,"value":3554},{"year":1962,"value":3395},{"year":1963,"value":3119},{"year":1964,"value":2684},{"year":1965,"value":1994},{"year":1966,"value":100},{"year":1980,"value":250},{"year":1990,"value":330},{"year":2000,"value":400},{"year":2010,"value":450},{"year":2020,"value":400}
],
"dftest": [
{"row":0,"label":"Results of Dickey-Fuller Test:","value":""},
{"row":1,"label":"Test Statistic","value":"-1.637950e+01"},
{"row":2,"label":"p-value","value":"2.760293e-29"},
{"row":3,"label":"#Lags Used","value":"4.100000e+01"},
{"row":4,"label":"Number of Observations Used","value":"2.594700e+04"},
{"row":5,"label":"Critical Value (1%)","value":"-3.430602e+00"},
{"row":6,"label":"Critical Value (5%)","value":"-2.861651e+00"},
{"row":7,"label":"Critical Value (10%)","value":"-2.566829e+00"},
{"row":8,"label":"dtype: float64","value":""}
]
},
"spacing": 20,
"vconcat": [
{
"width": 603, "height": 195,
"title": {"text": "Rolling Mean & Standard Deviation", "fontSize": 12, "fontWeight": "normal", "color": "#262626", "font": "Liberation Sans", "offset": 4},
"view": {"fill": "#EAEAF2", "stroke": null},
"encoding": {
  "x": {"field": "year", "type": "quantitative", "title": null, "scale": {"domain": [1736.5, 2033.5], "nice": false, "zero": false}, "axis": {"values": [1760,1800,1840,1880,1920,1960,2000], "format": "d", "labelPadding": 7}},
  "y": {"field": "value", "type": "quantitative", "title": null, "scale": {"domain": [-1870, 38670], "nice": false, "zero": false}, "axis": {"values": [0,10000,20000,30000], "format": "d", "labelPadding": 8, "minExtent": 47}},
  "order": {"value": null}
},
"layer": [
{"data": {"name": "original"}, "mark": {"type": "line", "strokeWidth": 1.5},
 "encoding": {"color": {"datum": "Original", "scale": {"domain": ["Original", "Rolling Mean", "Rolling Std"], "range": ["#0000ff", "#ff0000", "#000000"]},
   "legend": {"title": null, "orient": "top-left", "offset": 6, "symbolType": "M-2.2,0H2.2", "symbolSize": 144, "symbolStrokeWidth": 1.8, "symbolOffset": 6.2, "labelFontSize": 12, "labelColor": "#262626", "labelFont": "Liberation Sans", "labelOffset": 21, "padding": 4, "rowPadding": 4, "fillColor": "#EAEAF2", "strokeColor": "#cccccc", "cornerRadius": 3}}}},
{"data": {"name": "rolling_mean"}, "mark": {"type": "line", "strokeWidth": 1.5},
 "encoding": {"color": {"datum": "Rolling Mean"}}},
{"data": {"name": "rolling_std"}, "mark": {"type": "line", "strokeWidth": 1.5},
 "encoding": {"color": {"datum": "Rolling Std"}}}
]
},
{
"width": 297, "height": 122,
"data": {"name": "dftest"},
"view": {"stroke": null},
"encoding": {
  "y": {"field": "row", "type": "quantitative", "scale": {"domain": [0, 8], "reverse": true, "nice": false, "zero": false}, "axis": null}
},
"layer": [
{"mark": {"type": "text", "align": "left", "baseline": "middle", "font": "Liberation Mono", "fontSize": 11.5, "color": "#000000"},
 "encoding": {"x": {"datum": 0, "type": "quantitative", "scale": {"domain": [0, 1], "range": [-47, 250], "nice": false, "zero": false}, "axis": null}, "text": {"field": "label"}}},
{"mark": {"type": "text", "align": "right", "baseline": "middle", "font": "Liberation Mono", "fontSize": 11.5, "color": "#000000"},
 "encoding": {"x": {"datum": 1, "type": "quantitative"}, "text": {"field": "value"}}}
]
}
]
}
